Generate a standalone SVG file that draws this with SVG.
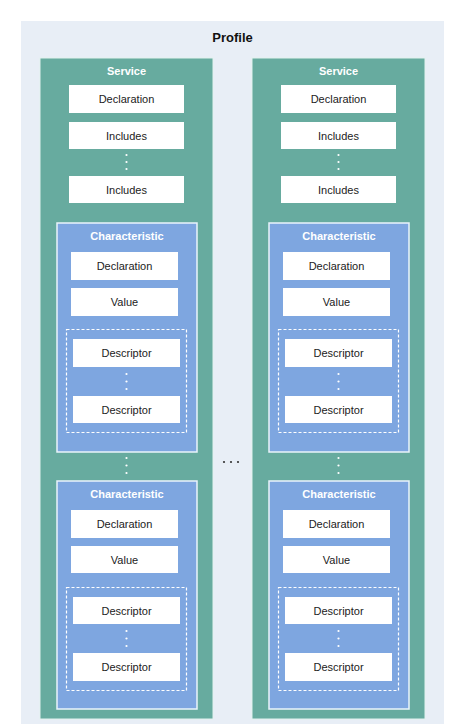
<svg xmlns="http://www.w3.org/2000/svg" width="474" height="724" viewBox="0 0 474 724">
<style>
.bg{fill:#e8eef6}
.svc{fill:#67ab9f;stroke:#e2f1ee;stroke-width:1}
.chr{fill:#7ea6e0;stroke:#eaf4fb;stroke-width:1.5}
.box{fill:#ffffff}
.dash{fill:none;stroke:#ffffff;stroke-width:1.2;stroke-dasharray:3 2}
.t{font-family:"Liberation Sans",Arial,sans-serif;font-size:11px;fill:#222;text-anchor:middle}
.h{font-family:"Liberation Sans",Arial,sans-serif;font-size:11px;font-weight:bold;fill:#ffffff;text-anchor:middle}
.p{font-family:"Liberation Sans",Arial,sans-serif;font-size:13px;font-weight:bold;fill:#111;text-anchor:middle}
.dot{fill:#ffffff}
.dk{fill:#333}
</style>
<g id="profile">
<rect class="bg" x="21" y="21" width="423" height="703"/>
<text class="p" x="232.5" y="42">Profile</text>
</g>
<g id="service-left">
<rect class="svc" x="40" y="58" width="173" height="661"/>
<text class="h" x="126.5" y="75">Service</text>
<g id="s1-declaration"><rect class="box" x="69" y="85" width="115" height="28"/><text class="t" x="126.5" y="103">Declaration</text></g>
<g id="s1-includes1"><rect class="box" x="69" y="122" width="115" height="27"/><text class="t" x="126.5" y="139.5">Includes</text></g>
<g id="s1-includes2"><rect class="box" x="69" y="176" width="115" height="27"/><text class="t" x="126.5" y="193.5">Includes</text></g>
<g class="dot"><circle cx="126.5" cy="155" r="1.1"/><circle cx="126.5" cy="162" r="1.1"/><circle cx="126.5" cy="169" r="1.1"/></g>
<g id="s1-char1">
<rect class="chr" x="57" y="223" width="140" height="229"/>
<text class="h" x="127" y="240">Characteristic</text>
<g id="s1c1-declaration"><rect class="box" x="71" y="252" width="107" height="28"/><text class="t" x="124.5" y="270">Declaration</text></g>
<g id="s1c1-value"><rect class="box" x="71" y="288" width="107" height="28"/><text class="t" x="124.5" y="306">Value</text></g>
<rect class="dash" x="66.5" y="329.5" width="120" height="103"/>
<g id="s1c1-desc1"><rect class="box" x="73" y="339" width="107" height="28"/><text class="t" x="126.5" y="357">Descriptor</text></g>
<g id="s1c1-desc2"><rect class="box" x="73" y="396" width="107" height="27"/><text class="t" x="126.5" y="413.5">Descriptor</text></g>
<g class="dot"><circle cx="126.5" cy="374" r="1.1"/><circle cx="126.5" cy="381.5" r="1.1"/><circle cx="126.5" cy="389" r="1.1"/></g>
</g>
<g class="dot"><circle cx="126.5" cy="458" r="1.1"/><circle cx="126.5" cy="465.5" r="1.1"/><circle cx="126.5" cy="473" r="1.1"/></g>
<g id="s1-char2">
<rect class="chr" x="57" y="481" width="140" height="228"/>
<text class="h" x="127" y="498">Characteristic</text>
<g id="s1c2-declaration"><rect class="box" x="71" y="510" width="107" height="28"/><text class="t" x="124.5" y="528">Declaration</text></g>
<g id="s1c2-value"><rect class="box" x="71" y="546" width="107" height="27"/><text class="t" x="124.5" y="563.5">Value</text></g>
<rect class="dash" x="66.5" y="587.5" width="120" height="103"/>
<g id="s1c2-desc1"><rect class="box" x="73" y="597" width="107" height="27"/><text class="t" x="126.5" y="614.5">Descriptor</text></g>
<g id="s1c2-desc2"><rect class="box" x="73" y="653" width="107" height="28"/><text class="t" x="126.5" y="671">Descriptor</text></g>
<g class="dot"><circle cx="126.5" cy="631" r="1.1"/><circle cx="126.5" cy="638.5" r="1.1"/><circle cx="126.5" cy="646" r="1.1"/></g>
</g>
</g>
<g id="service-right" transform="translate(212,0)">
<rect class="svc" x="40" y="58" width="173" height="661"/>
<text class="h" x="126.5" y="75">Service</text>
<g id="s2-declaration"><rect class="box" x="69" y="85" width="115" height="28"/><text class="t" x="126.5" y="103">Declaration</text></g>
<g id="s2-includes1"><rect class="box" x="69" y="122" width="115" height="27"/><text class="t" x="126.5" y="139.5">Includes</text></g>
<g id="s2-includes2"><rect class="box" x="69" y="176" width="115" height="27"/><text class="t" x="126.5" y="193.5">Includes</text></g>
<g class="dot"><circle cx="126.5" cy="155" r="1.1"/><circle cx="126.5" cy="162" r="1.1"/><circle cx="126.5" cy="169" r="1.1"/></g>
<g id="s2-char1">
<rect class="chr" x="57" y="223" width="140" height="229"/>
<text class="h" x="127" y="240">Characteristic</text>
<g id="s2c1-declaration"><rect class="box" x="71" y="252" width="107" height="28"/><text class="t" x="124.5" y="270">Declaration</text></g>
<g id="s2c1-value"><rect class="box" x="71" y="288" width="107" height="28"/><text class="t" x="124.5" y="306">Value</text></g>
<rect class="dash" x="66.5" y="329.5" width="120" height="103"/>
<g id="s2c1-desc1"><rect class="box" x="73" y="339" width="107" height="28"/><text class="t" x="126.5" y="357">Descriptor</text></g>
<g id="s2c1-desc2"><rect class="box" x="73" y="396" width="107" height="27"/><text class="t" x="126.5" y="413.5">Descriptor</text></g>
<g class="dot"><circle cx="126.5" cy="374" r="1.1"/><circle cx="126.5" cy="381.5" r="1.1"/><circle cx="126.5" cy="389" r="1.1"/></g>
</g>
<g class="dot"><circle cx="126.5" cy="458" r="1.1"/><circle cx="126.5" cy="465.5" r="1.1"/><circle cx="126.5" cy="473" r="1.1"/></g>
<g id="s2-char2">
<rect class="chr" x="57" y="481" width="140" height="228"/>
<text class="h" x="127" y="498">Characteristic</text>
<g id="s2c2-declaration"><rect class="box" x="71" y="510" width="107" height="28"/><text class="t" x="124.5" y="528">Declaration</text></g>
<g id="s2c2-value"><rect class="box" x="71" y="546" width="107" height="27"/><text class="t" x="124.5" y="563.5">Value</text></g>
<rect class="dash" x="66.5" y="587.5" width="120" height="103"/>
<g id="s2c2-desc1"><rect class="box" x="73" y="597" width="107" height="27"/><text class="t" x="126.5" y="614.5">Descriptor</text></g>
<g id="s2c2-desc2"><rect class="box" x="73" y="653" width="107" height="28"/><text class="t" x="126.5" y="671">Descriptor</text></g>
<g class="dot"><circle cx="126.5" cy="631" r="1.1"/><circle cx="126.5" cy="638.5" r="1.1"/><circle cx="126.5" cy="646" r="1.1"/></g>
</g>
</g>
<g id="connectors">
<g class="dk"><circle cx="224" cy="462" r="1.1"/><circle cx="231" cy="462" r="1.1"/><circle cx="238" cy="462" r="1.1"/></g>
</g>
</svg>
